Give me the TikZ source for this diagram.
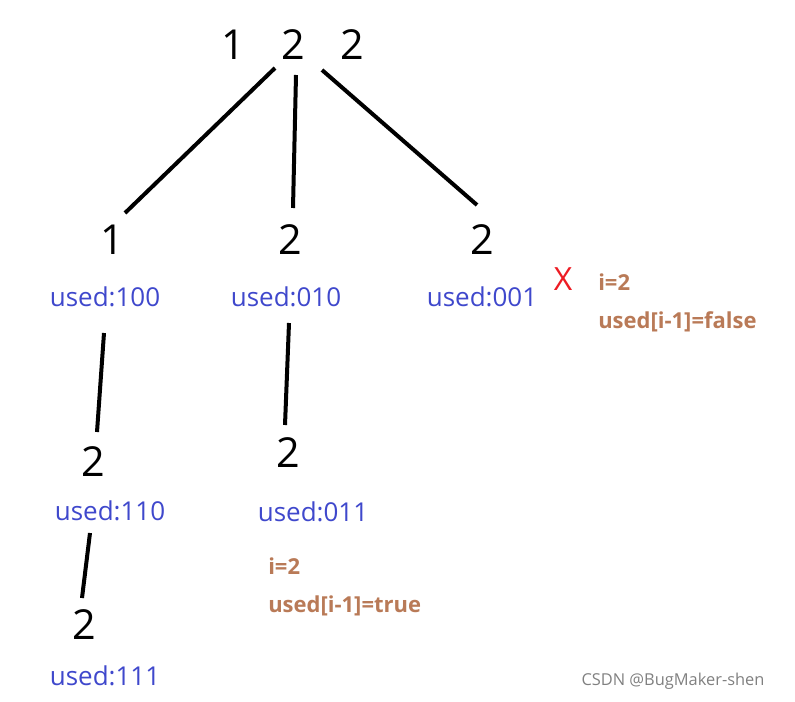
\documentclass[tikz,border=0pt]{standalone}
\usepackage{fontspec}
\setmainfont{Open Sans}
\usepackage{xcolor}
\definecolor{usedblue}{HTML}{3F48CC}
\definecolor{notebrown}{HTML}{B97A57}
\definecolor{crossred}{HTML}{ED1C24}
\begin{document}
\begin{tikzpicture}[
  x=0.75pt, y=-0.75pt,
  num/.style={font=\fontsize{31}{31}\selectfont, inner sep=0pt},
  used/.style={font=\fontsize{19.5}{19.5}\selectfont, text=usedblue, inner sep=0pt},
  note/.style={font=\fontsize{16.5}{16.5}\selectfont\bfseries, text=notebrown, inner sep=0pt, anchor=west},
  edge/.style={line width=3pt}
]
  \useasboundingbox (0,0) rectangle (795,702);
  % Root
  \node[num] (ra) at (233,45) {1};
  \node[num] (rb) at (293,45) {2};
  \node[num] (rc) at (352,45) {2};

  % Second level
  \node[num] (a) at (112,240) {1};
  \node[num] (b) at (290,240) {2};
  \node[num] (c) at (482,240) {2};
  \node[used] (ua) at (105,297) {used:100};
  \node[used] (ub) at (286,297) {used:010};
  \node[used] (uc) at (482,297) {used:001};
  \node[text=crossred, font=\fontsize{24}{24}\selectfont, inner sep=0pt] (x) at (563,279) {X};
  \node[note] (ni) at (598,282) {i=2};
  \node[note] (nf) at (598,322) {used[i-1]=false};

  % Third level
  \node[num] (aa) at (93,462) {2};
  \node[num] (bb) at (288,453) {2};
  \node[used] (uaa) at (110,511) {used:110};
  \node[used] (ubb) at (313,512) {used:011};
  \node[note] (mi) at (268,566) {i=2};
  \node[note] (mt) at (268,606) {used[i-1]=true};

  % Fourth level
  \node[num] (aaa) at (84,625) {2};
  \node[used] (uaaa) at (105,676) {used:111};

  \node[text=gray, font=\fontsize{12.3}{12.3}\selectfont, inner sep=0pt] (wm) at (673,681) {CSDN @BugMaker-shen};

  % Edge ends
  \coordinate (rl) at (275,68);   \coordinate (al) at (125,213);
  \coordinate (rm) at (296,75);   \coordinate (bl) at (293,208);
  \coordinate (rr) at (322,70);   \coordinate (cl) at (477,205);
  \coordinate (ua1) at (104,333); \coordinate (aa1) at (97,432);
  \coordinate (ub1) at (289,323); \coordinate (bb1) at (285,425);
  \coordinate (uaa1) at (90,533); \coordinate (aaa1) at (82,598);

  % Edges
  \draw[edge] (rl) -- (al);
  \draw[edge] (rm) -- (bl);
  \draw[edge] (rr) -- (cl);
  \draw[edge] (ua1) -- (aa1);
  \draw[edge] (ub1) -- (bb1);
  \draw[edge] (uaa1) -- (aaa1);
\end{tikzpicture}
\end{document}
